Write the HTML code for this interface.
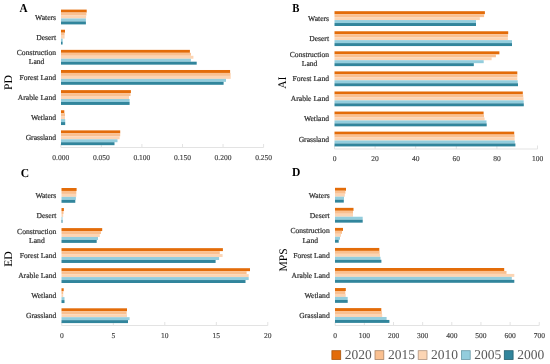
<!DOCTYPE html>
<html><head><meta charset="utf-8"><style>
html,body{margin:0;padding:0;background:#fff;}
body{width:550px;height:364px;overflow:hidden;}
svg{display:block;will-change:transform;}
text{font-family:"Liberation Serif",serif;text-rendering:geometricPrecision;}
</style></head><body>
<svg width="550" height="364" viewBox="0 0 550 364">
<rect x="0" y="0" width="550" height="364" fill="#fff"/>

<line x1="61.00" y1="147.50" x2="263.60" y2="147.50" stroke="#E3E3E3" stroke-width="1"/>
<line x1="60.80" y1="144.00" x2="60.80" y2="147.50" stroke="#E3E3E3" stroke-width="1"/>
<text x="60.80" y="159.60" font-size="7.5" fill="#404040" stroke="#404040" stroke-width="0.15" text-anchor="middle">0.000</text>
<line x1="101.36" y1="144.00" x2="101.36" y2="147.50" stroke="#E3E3E3" stroke-width="1"/>
<text x="101.36" y="159.60" font-size="7.5" fill="#404040" stroke="#404040" stroke-width="0.15" text-anchor="middle">0.050</text>
<line x1="141.92" y1="144.00" x2="141.92" y2="147.50" stroke="#E3E3E3" stroke-width="1"/>
<text x="141.92" y="159.60" font-size="7.5" fill="#404040" stroke="#404040" stroke-width="0.15" text-anchor="middle">0.100</text>
<line x1="182.48" y1="144.00" x2="182.48" y2="147.50" stroke="#E3E3E3" stroke-width="1"/>
<text x="182.48" y="159.60" font-size="7.5" fill="#404040" stroke="#404040" stroke-width="0.15" text-anchor="middle">0.150</text>
<line x1="223.04" y1="144.00" x2="223.04" y2="147.50" stroke="#E3E3E3" stroke-width="1"/>
<text x="223.04" y="159.60" font-size="7.5" fill="#404040" stroke="#404040" stroke-width="0.15" text-anchor="middle">0.200</text>
<line x1="263.60" y1="144.00" x2="263.60" y2="147.50" stroke="#E3E3E3" stroke-width="1"/>
<text x="263.60" y="159.60" font-size="7.5" fill="#404040" stroke="#404040" stroke-width="0.15" text-anchor="middle">0.250</text>
<rect x="61.00" y="9.60" width="25.70" height="2.96" fill="#E36C09"/>
<rect x="61.00" y="12.56" width="25.40" height="2.96" fill="#FAC090"/>
<rect x="61.00" y="15.52" width="25.10" height="2.96" fill="#FCD5B4"/>
<rect x="61.00" y="18.48" width="24.90" height="2.96" fill="#93CDDD"/>
<rect x="61.00" y="21.44" width="24.90" height="2.96" fill="#31859C"/>
<text x="56.00" y="19.50" font-size="7.6" fill="#333333" stroke="#333333" stroke-width="0.22" text-anchor="end">Waters</text>
<rect x="61.00" y="29.73" width="4.00" height="2.96" fill="#E36C09"/>
<rect x="61.00" y="32.69" width="3.60" height="2.96" fill="#FAC090"/>
<rect x="61.00" y="35.65" width="3.60" height="2.96" fill="#FCD5B4"/>
<rect x="61.00" y="38.61" width="1.70" height="2.96" fill="#93CDDD"/>
<rect x="61.00" y="41.57" width="1.60" height="2.96" fill="#31859C"/>
<text x="56.00" y="39.63" font-size="7.6" fill="#333333" stroke="#333333" stroke-width="0.22" text-anchor="end">Desert</text>
<rect x="61.00" y="49.86" width="128.90" height="2.96" fill="#E36C09"/>
<rect x="61.00" y="52.82" width="129.90" height="2.96" fill="#FAC090"/>
<rect x="61.00" y="55.78" width="132.40" height="2.96" fill="#FCD5B4"/>
<rect x="61.00" y="58.74" width="129.90" height="2.96" fill="#93CDDD"/>
<rect x="61.00" y="61.70" width="135.70" height="2.96" fill="#31859C"/>
<text x="56.00" y="55.36" font-size="7.6" fill="#333333" stroke="#333333" stroke-width="0.22" text-anchor="end">Construction</text>
<text x="36.60" y="64.46" font-size="7.6" fill="#333333" stroke="#333333" stroke-width="0.22" text-anchor="middle">Land</text>
<rect x="61.00" y="69.99" width="169.10" height="2.96" fill="#E36C09"/>
<rect x="61.00" y="72.95" width="169.50" height="2.96" fill="#FAC090"/>
<rect x="61.00" y="75.91" width="169.70" height="2.96" fill="#FCD5B4"/>
<rect x="61.00" y="78.87" width="165.00" height="2.96" fill="#93CDDD"/>
<rect x="61.00" y="81.83" width="162.60" height="2.96" fill="#31859C"/>
<text x="56.00" y="79.89" font-size="7.6" fill="#333333" stroke="#333333" stroke-width="0.22" text-anchor="end">Forest Land</text>
<rect x="61.00" y="90.12" width="69.90" height="2.96" fill="#E36C09"/>
<rect x="61.00" y="93.08" width="69.50" height="2.96" fill="#FAC090"/>
<rect x="61.00" y="96.04" width="68.00" height="2.96" fill="#FCD5B4"/>
<rect x="61.00" y="99.00" width="68.60" height="2.96" fill="#93CDDD"/>
<rect x="61.00" y="101.96" width="68.60" height="2.96" fill="#31859C"/>
<text x="56.00" y="100.02" font-size="7.6" fill="#333333" stroke="#333333" stroke-width="0.22" text-anchor="end">Arable Land</text>
<rect x="61.00" y="110.25" width="3.30" height="2.96" fill="#E36C09"/>
<rect x="61.00" y="113.21" width="4.00" height="2.96" fill="#FAC090"/>
<rect x="61.00" y="116.17" width="4.00" height="2.96" fill="#FCD5B4"/>
<rect x="61.00" y="119.13" width="4.20" height="2.96" fill="#93CDDD"/>
<rect x="61.00" y="122.09" width="4.20" height="2.96" fill="#31859C"/>
<text x="56.00" y="120.15" font-size="7.6" fill="#333333" stroke="#333333" stroke-width="0.22" text-anchor="end">Wetland</text>
<rect x="61.00" y="130.38" width="59.20" height="2.96" fill="#E36C09"/>
<rect x="61.00" y="133.34" width="59.20" height="2.96" fill="#FAC090"/>
<rect x="61.00" y="136.30" width="58.60" height="2.96" fill="#FCD5B4"/>
<rect x="61.00" y="139.26" width="56.50" height="2.96" fill="#93CDDD"/>
<rect x="61.00" y="142.22" width="53.50" height="2.96" fill="#31859C"/>
<text x="56.00" y="140.28" font-size="7.6" fill="#333333" stroke="#333333" stroke-width="0.22" text-anchor="end">Grassland</text>
<text x="0" y="0" font-size="12.2" font-weight="bold" fill="#000" text-anchor="middle" transform="translate(23.60 11.70) scale(0.92 1)">A</text>
<text x="0" y="0" font-size="11.6" fill="#000" text-anchor="middle" transform="translate(12.20 82.60) rotate(-90)">PD</text>
<line x1="334.50" y1="149.00" x2="537.50" y2="149.00" stroke="#E3E3E3" stroke-width="1"/>
<line x1="334.50" y1="145.50" x2="334.50" y2="149.00" stroke="#E3E3E3" stroke-width="1"/>
<text x="334.50" y="161.40" font-size="7.5" fill="#404040" stroke="#404040" stroke-width="0.15" text-anchor="middle">0</text>
<line x1="375.10" y1="145.50" x2="375.10" y2="149.00" stroke="#E3E3E3" stroke-width="1"/>
<text x="375.10" y="161.40" font-size="7.5" fill="#404040" stroke="#404040" stroke-width="0.15" text-anchor="middle">20</text>
<line x1="415.70" y1="145.50" x2="415.70" y2="149.00" stroke="#E3E3E3" stroke-width="1"/>
<text x="415.70" y="161.40" font-size="7.5" fill="#404040" stroke="#404040" stroke-width="0.15" text-anchor="middle">40</text>
<line x1="456.30" y1="145.50" x2="456.30" y2="149.00" stroke="#E3E3E3" stroke-width="1"/>
<text x="456.30" y="161.40" font-size="7.5" fill="#404040" stroke="#404040" stroke-width="0.15" text-anchor="middle">60</text>
<line x1="496.90" y1="145.50" x2="496.90" y2="149.00" stroke="#E3E3E3" stroke-width="1"/>
<text x="496.90" y="161.40" font-size="7.5" fill="#404040" stroke="#404040" stroke-width="0.15" text-anchor="middle">80</text>
<line x1="537.50" y1="145.50" x2="537.50" y2="149.00" stroke="#E3E3E3" stroke-width="1"/>
<text x="537.50" y="161.40" font-size="7.5" fill="#404040" stroke="#404040" stroke-width="0.15" text-anchor="middle">100</text>
<rect x="334.50" y="11.20" width="150.40" height="2.96" fill="#E36C09"/>
<rect x="334.50" y="14.16" width="149.60" height="2.96" fill="#FAC090"/>
<rect x="334.50" y="17.12" width="145.30" height="2.96" fill="#FCD5B4"/>
<rect x="334.50" y="20.08" width="141.50" height="2.96" fill="#93CDDD"/>
<rect x="334.50" y="23.04" width="141.50" height="2.96" fill="#31859C"/>
<text x="329.00" y="21.10" font-size="7.6" fill="#333333" stroke="#333333" stroke-width="0.22" text-anchor="end">Waters</text>
<rect x="334.50" y="31.27" width="173.70" height="2.96" fill="#E36C09"/>
<rect x="334.50" y="34.23" width="173.40" height="2.96" fill="#FAC090"/>
<rect x="334.50" y="37.19" width="173.40" height="2.96" fill="#FCD5B4"/>
<rect x="334.50" y="40.15" width="177.50" height="2.96" fill="#93CDDD"/>
<rect x="334.50" y="43.11" width="177.50" height="2.96" fill="#31859C"/>
<text x="329.00" y="41.17" font-size="7.6" fill="#333333" stroke="#333333" stroke-width="0.22" text-anchor="end">Desert</text>
<rect x="334.50" y="51.34" width="164.90" height="2.96" fill="#E36C09"/>
<rect x="334.50" y="54.30" width="161.40" height="2.96" fill="#FAC090"/>
<rect x="334.50" y="57.26" width="157.10" height="2.96" fill="#FCD5B4"/>
<rect x="334.50" y="60.22" width="149.20" height="2.96" fill="#93CDDD"/>
<rect x="334.50" y="63.18" width="139.30" height="2.96" fill="#31859C"/>
<text x="329.00" y="56.84" font-size="7.6" fill="#333333" stroke="#333333" stroke-width="0.22" text-anchor="end">Construction</text>
<text x="309.60" y="65.94" font-size="7.6" fill="#333333" stroke="#333333" stroke-width="0.22" text-anchor="middle">Land</text>
<rect x="334.50" y="71.41" width="182.80" height="2.96" fill="#E36C09"/>
<rect x="334.50" y="74.37" width="182.80" height="2.96" fill="#FAC090"/>
<rect x="334.50" y="77.33" width="182.80" height="2.96" fill="#FCD5B4"/>
<rect x="334.50" y="80.29" width="183.20" height="2.96" fill="#93CDDD"/>
<rect x="334.50" y="83.25" width="183.50" height="2.96" fill="#31859C"/>
<text x="329.00" y="81.31" font-size="7.6" fill="#333333" stroke="#333333" stroke-width="0.22" text-anchor="end">Forest Land</text>
<rect x="334.50" y="91.48" width="188.30" height="2.96" fill="#E36C09"/>
<rect x="334.50" y="94.44" width="188.70" height="2.96" fill="#FAC090"/>
<rect x="334.50" y="97.40" width="189.00" height="2.96" fill="#FCD5B4"/>
<rect x="334.50" y="100.36" width="189.20" height="2.96" fill="#93CDDD"/>
<rect x="334.50" y="103.32" width="189.30" height="2.96" fill="#31859C"/>
<text x="329.00" y="101.38" font-size="7.6" fill="#333333" stroke="#333333" stroke-width="0.22" text-anchor="end">Arable Land</text>
<rect x="334.50" y="111.55" width="149.10" height="2.96" fill="#E36C09"/>
<rect x="334.50" y="114.51" width="149.50" height="2.96" fill="#FAC090"/>
<rect x="334.50" y="117.47" width="150.10" height="2.96" fill="#FCD5B4"/>
<rect x="334.50" y="120.43" width="152.00" height="2.96" fill="#93CDDD"/>
<rect x="334.50" y="123.39" width="152.20" height="2.96" fill="#31859C"/>
<text x="329.00" y="121.45" font-size="7.6" fill="#333333" stroke="#333333" stroke-width="0.22" text-anchor="end">Wetland</text>
<rect x="334.50" y="131.62" width="179.70" height="2.96" fill="#E36C09"/>
<rect x="334.50" y="134.58" width="180.10" height="2.96" fill="#FAC090"/>
<rect x="334.50" y="137.54" width="180.10" height="2.96" fill="#FCD5B4"/>
<rect x="334.50" y="140.50" width="180.30" height="2.96" fill="#93CDDD"/>
<rect x="334.50" y="143.46" width="180.90" height="2.96" fill="#31859C"/>
<text x="329.00" y="141.52" font-size="7.6" fill="#333333" stroke="#333333" stroke-width="0.22" text-anchor="end">Grassland</text>
<text x="0" y="0" font-size="12.2" font-weight="bold" fill="#000" text-anchor="middle" transform="translate(295.80 11.60) scale(0.88 1)">B</text>
<text x="0" y="0" font-size="11.6" fill="#000" text-anchor="middle" transform="translate(285.70 82.70) rotate(-90)">AI</text>
<line x1="61.50" y1="325.50" x2="267.80" y2="325.50" stroke="#E3E3E3" stroke-width="1"/>
<line x1="61.80" y1="322.00" x2="61.80" y2="325.50" stroke="#E3E3E3" stroke-width="1"/>
<text x="61.80" y="338.30" font-size="7.5" fill="#404040" stroke="#404040" stroke-width="0.15" text-anchor="middle">0</text>
<line x1="113.30" y1="322.00" x2="113.30" y2="325.50" stroke="#E3E3E3" stroke-width="1"/>
<text x="113.30" y="338.30" font-size="7.5" fill="#404040" stroke="#404040" stroke-width="0.15" text-anchor="middle">5</text>
<line x1="164.80" y1="322.00" x2="164.80" y2="325.50" stroke="#E3E3E3" stroke-width="1"/>
<text x="164.80" y="338.30" font-size="7.5" fill="#404040" stroke="#404040" stroke-width="0.15" text-anchor="middle">10</text>
<line x1="216.30" y1="322.00" x2="216.30" y2="325.50" stroke="#E3E3E3" stroke-width="1"/>
<text x="216.30" y="338.30" font-size="7.5" fill="#404040" stroke="#404040" stroke-width="0.15" text-anchor="middle">15</text>
<line x1="267.80" y1="322.00" x2="267.80" y2="325.50" stroke="#E3E3E3" stroke-width="1"/>
<text x="267.80" y="338.30" font-size="7.5" fill="#404040" stroke="#404040" stroke-width="0.15" text-anchor="middle">20</text>
<rect x="61.50" y="188.00" width="15.10" height="2.96" fill="#E36C09"/>
<rect x="61.50" y="190.96" width="14.80" height="2.96" fill="#FAC090"/>
<rect x="61.50" y="193.92" width="14.80" height="2.96" fill="#FCD5B4"/>
<rect x="61.50" y="196.88" width="14.40" height="2.96" fill="#93CDDD"/>
<rect x="61.50" y="199.84" width="13.80" height="2.96" fill="#31859C"/>
<text x="56.30" y="197.90" font-size="7.6" fill="#333333" stroke="#333333" stroke-width="0.22" text-anchor="end">Waters</text>
<rect x="61.50" y="208.05" width="2.40" height="2.96" fill="#E36C09"/>
<rect x="61.50" y="211.01" width="2.00" height="2.96" fill="#FAC090"/>
<rect x="61.50" y="213.97" width="1.70" height="2.96" fill="#FCD5B4"/>
<rect x="61.50" y="216.93" width="1.00" height="2.96" fill="#93CDDD"/>
<rect x="61.50" y="219.89" width="1.00" height="2.96" fill="#31859C"/>
<text x="56.30" y="217.95" font-size="7.6" fill="#333333" stroke="#333333" stroke-width="0.22" text-anchor="end">Desert</text>
<rect x="61.50" y="228.10" width="40.70" height="2.96" fill="#E36C09"/>
<rect x="61.50" y="231.06" width="39.40" height="2.96" fill="#FAC090"/>
<rect x="61.50" y="234.02" width="38.30" height="2.96" fill="#FCD5B4"/>
<rect x="61.50" y="236.98" width="36.50" height="2.96" fill="#93CDDD"/>
<rect x="61.50" y="239.94" width="35.20" height="2.96" fill="#31859C"/>
<text x="56.30" y="233.60" font-size="7.6" fill="#333333" stroke="#333333" stroke-width="0.22" text-anchor="end">Construction</text>
<text x="36.90" y="242.70" font-size="7.6" fill="#333333" stroke="#333333" stroke-width="0.22" text-anchor="middle">Land</text>
<rect x="61.50" y="248.15" width="161.40" height="2.96" fill="#E36C09"/>
<rect x="61.50" y="251.11" width="158.30" height="2.96" fill="#FAC090"/>
<rect x="61.50" y="254.07" width="161.10" height="2.96" fill="#FCD5B4"/>
<rect x="61.50" y="257.03" width="157.60" height="2.96" fill="#93CDDD"/>
<rect x="61.50" y="259.99" width="154.10" height="2.96" fill="#31859C"/>
<text x="56.30" y="258.05" font-size="7.6" fill="#333333" stroke="#333333" stroke-width="0.22" text-anchor="end">Forest Land</text>
<rect x="61.50" y="268.20" width="188.50" height="2.96" fill="#E36C09"/>
<rect x="61.50" y="271.16" width="185.10" height="2.96" fill="#FAC090"/>
<rect x="61.50" y="274.12" width="187.20" height="2.96" fill="#FCD5B4"/>
<rect x="61.50" y="277.08" width="187.20" height="2.96" fill="#93CDDD"/>
<rect x="61.50" y="280.04" width="184.00" height="2.96" fill="#31859C"/>
<text x="56.30" y="278.10" font-size="7.6" fill="#333333" stroke="#333333" stroke-width="0.22" text-anchor="end">Arable Land</text>
<rect x="61.50" y="288.25" width="2.20" height="2.96" fill="#E36C09"/>
<rect x="61.50" y="291.21" width="1.70" height="2.96" fill="#FAC090"/>
<rect x="61.50" y="294.17" width="1.70" height="2.96" fill="#FCD5B4"/>
<rect x="61.50" y="297.13" width="3.00" height="2.96" fill="#93CDDD"/>
<rect x="61.50" y="300.09" width="3.00" height="2.96" fill="#31859C"/>
<text x="56.30" y="298.15" font-size="7.6" fill="#333333" stroke="#333333" stroke-width="0.22" text-anchor="end">Wetland</text>
<rect x="61.50" y="308.30" width="65.50" height="2.96" fill="#E36C09"/>
<rect x="61.50" y="311.26" width="65.10" height="2.96" fill="#FAC090"/>
<rect x="61.50" y="314.22" width="65.50" height="2.96" fill="#FCD5B4"/>
<rect x="61.50" y="317.18" width="68.10" height="2.96" fill="#93CDDD"/>
<rect x="61.50" y="320.14" width="66.50" height="2.96" fill="#31859C"/>
<text x="56.30" y="318.20" font-size="7.6" fill="#333333" stroke="#333333" stroke-width="0.22" text-anchor="end">Grassland</text>
<text x="0" y="0" font-size="12.2" font-weight="bold" fill="#000" text-anchor="middle" transform="translate(25.00 176.90) scale(0.95 1)">C</text>
<text x="0" y="0" font-size="11.6" fill="#000" text-anchor="middle" transform="translate(12.40 259.00) rotate(-90)">ED</text>
<line x1="335.00" y1="325.50" x2="539.25" y2="325.50" stroke="#E3E3E3" stroke-width="1"/>
<line x1="335.20" y1="322.00" x2="335.20" y2="325.50" stroke="#E3E3E3" stroke-width="1"/>
<text x="335.20" y="338.00" font-size="7.5" fill="#404040" stroke="#404040" stroke-width="0.15" text-anchor="middle">0</text>
<line x1="364.35" y1="322.00" x2="364.35" y2="325.50" stroke="#E3E3E3" stroke-width="1"/>
<text x="364.35" y="338.00" font-size="7.5" fill="#404040" stroke="#404040" stroke-width="0.15" text-anchor="middle">100</text>
<line x1="393.50" y1="322.00" x2="393.50" y2="325.50" stroke="#E3E3E3" stroke-width="1"/>
<text x="393.50" y="338.00" font-size="7.5" fill="#404040" stroke="#404040" stroke-width="0.15" text-anchor="middle">200</text>
<line x1="422.65" y1="322.00" x2="422.65" y2="325.50" stroke="#E3E3E3" stroke-width="1"/>
<text x="422.65" y="338.00" font-size="7.5" fill="#404040" stroke="#404040" stroke-width="0.15" text-anchor="middle">300</text>
<line x1="451.80" y1="322.00" x2="451.80" y2="325.50" stroke="#E3E3E3" stroke-width="1"/>
<text x="451.80" y="338.00" font-size="7.5" fill="#404040" stroke="#404040" stroke-width="0.15" text-anchor="middle">400</text>
<line x1="480.95" y1="322.00" x2="480.95" y2="325.50" stroke="#E3E3E3" stroke-width="1"/>
<text x="480.95" y="338.00" font-size="7.5" fill="#404040" stroke="#404040" stroke-width="0.15" text-anchor="middle">500</text>
<line x1="510.10" y1="322.00" x2="510.10" y2="325.50" stroke="#E3E3E3" stroke-width="1"/>
<text x="510.10" y="338.00" font-size="7.5" fill="#404040" stroke="#404040" stroke-width="0.15" text-anchor="middle">600</text>
<line x1="539.25" y1="322.00" x2="539.25" y2="325.50" stroke="#E3E3E3" stroke-width="1"/>
<text x="539.25" y="338.00" font-size="7.5" fill="#404040" stroke="#404040" stroke-width="0.15" text-anchor="middle">700</text>
<rect x="335.00" y="187.80" width="11.00" height="2.96" fill="#E36C09"/>
<rect x="335.00" y="190.76" width="10.40" height="2.96" fill="#FAC090"/>
<rect x="335.00" y="193.72" width="9.80" height="2.96" fill="#FCD5B4"/>
<rect x="335.00" y="196.68" width="9.00" height="2.96" fill="#93CDDD"/>
<rect x="335.00" y="199.64" width="8.80" height="2.96" fill="#31859C"/>
<text x="329.70" y="197.70" font-size="7.6" fill="#333333" stroke="#333333" stroke-width="0.22" text-anchor="end">Waters</text>
<rect x="335.00" y="207.85" width="18.50" height="2.96" fill="#E36C09"/>
<rect x="335.00" y="210.81" width="18.00" height="2.96" fill="#FAC090"/>
<rect x="335.00" y="213.77" width="18.00" height="2.96" fill="#FCD5B4"/>
<rect x="335.00" y="216.73" width="27.70" height="2.96" fill="#93CDDD"/>
<rect x="335.00" y="219.69" width="27.70" height="2.96" fill="#31859C"/>
<text x="329.70" y="217.75" font-size="7.6" fill="#333333" stroke="#333333" stroke-width="0.22" text-anchor="end">Desert</text>
<rect x="335.00" y="227.90" width="8.00" height="2.96" fill="#E36C09"/>
<rect x="335.00" y="230.86" width="7.00" height="2.96" fill="#FAC090"/>
<rect x="335.00" y="233.82" width="6.00" height="2.96" fill="#FCD5B4"/>
<rect x="335.00" y="236.78" width="5.00" height="2.96" fill="#93CDDD"/>
<rect x="335.00" y="239.74" width="3.70" height="2.96" fill="#31859C"/>
<text x="329.70" y="233.40" font-size="7.6" fill="#333333" stroke="#333333" stroke-width="0.22" text-anchor="end">Construction</text>
<text x="310.30" y="242.50" font-size="7.6" fill="#333333" stroke="#333333" stroke-width="0.22" text-anchor="middle">Land</text>
<rect x="335.00" y="247.95" width="44.30" height="2.96" fill="#E36C09"/>
<rect x="335.00" y="250.91" width="44.60" height="2.96" fill="#FAC090"/>
<rect x="335.00" y="253.87" width="45.00" height="2.96" fill="#FCD5B4"/>
<rect x="335.00" y="256.83" width="45.50" height="2.96" fill="#93CDDD"/>
<rect x="335.00" y="259.79" width="46.40" height="2.96" fill="#31859C"/>
<text x="329.70" y="257.85" font-size="7.6" fill="#333333" stroke="#333333" stroke-width="0.22" text-anchor="end">Forest Land</text>
<rect x="335.00" y="268.00" width="169.20" height="2.96" fill="#E36C09"/>
<rect x="335.00" y="270.96" width="171.50" height="2.96" fill="#FAC090"/>
<rect x="335.00" y="273.92" width="179.30" height="2.96" fill="#FCD5B4"/>
<rect x="335.00" y="276.88" width="176.80" height="2.96" fill="#93CDDD"/>
<rect x="335.00" y="279.84" width="179.30" height="2.96" fill="#31859C"/>
<text x="329.70" y="277.90" font-size="7.6" fill="#333333" stroke="#333333" stroke-width="0.22" text-anchor="end">Arable Land</text>
<rect x="335.00" y="288.05" width="10.80" height="2.96" fill="#E36C09"/>
<rect x="335.00" y="291.01" width="10.30" height="2.96" fill="#FAC090"/>
<rect x="335.00" y="293.97" width="10.70" height="2.96" fill="#FCD5B4"/>
<rect x="335.00" y="296.93" width="12.70" height="2.96" fill="#93CDDD"/>
<rect x="335.00" y="299.89" width="12.70" height="2.96" fill="#31859C"/>
<text x="329.70" y="297.95" font-size="7.6" fill="#333333" stroke="#333333" stroke-width="0.22" text-anchor="end">Wetland</text>
<rect x="335.00" y="308.10" width="46.30" height="2.96" fill="#E36C09"/>
<rect x="335.00" y="311.06" width="46.80" height="2.96" fill="#FAC090"/>
<rect x="335.00" y="314.02" width="47.20" height="2.96" fill="#FCD5B4"/>
<rect x="335.00" y="316.98" width="51.60" height="2.96" fill="#93CDDD"/>
<rect x="335.00" y="319.94" width="54.40" height="2.96" fill="#31859C"/>
<text x="329.70" y="318.00" font-size="7.6" fill="#333333" stroke="#333333" stroke-width="0.22" text-anchor="end">Grassland</text>
<text x="0" y="0" font-size="12.2" font-weight="bold" fill="#000" text-anchor="middle" transform="translate(296.10 176.40) scale(0.95 1)">D</text>
<text x="0" y="0" font-size="11.6" fill="#000" text-anchor="middle" transform="translate(286.50 260.00) rotate(-90)">MPS</text>
<rect x="331.90" y="350.7" width="8.8" height="8.8" fill="#E36C09" stroke="#A8560E" stroke-width="0.8"/>
<text x="344.80" y="359.4" font-size="13.5" fill="#595959">2020</text>
<rect x="375.00" y="350.7" width="8.8" height="8.8" fill="#FAC090" stroke="#A88468" stroke-width="0.8"/>
<text x="387.90" y="359.4" font-size="13.5" fill="#595959">2015</text>
<rect x="418.20" y="350.7" width="8.8" height="8.8" fill="#FCD5B4" stroke="#B09580" stroke-width="0.8"/>
<text x="431.10" y="359.4" font-size="13.5" fill="#595959">2010</text>
<rect x="461.40" y="350.7" width="8.8" height="8.8" fill="#93CDDD" stroke="#6A9AA8" stroke-width="0.8"/>
<text x="474.30" y="359.4" font-size="13.5" fill="#595959">2005</text>
<rect x="504.30" y="350.7" width="8.8" height="8.8" fill="#31859C" stroke="#23606F" stroke-width="0.8"/>
<text x="517.20" y="359.4" font-size="13.5" fill="#595959">2000</text>
</svg></body></html>
